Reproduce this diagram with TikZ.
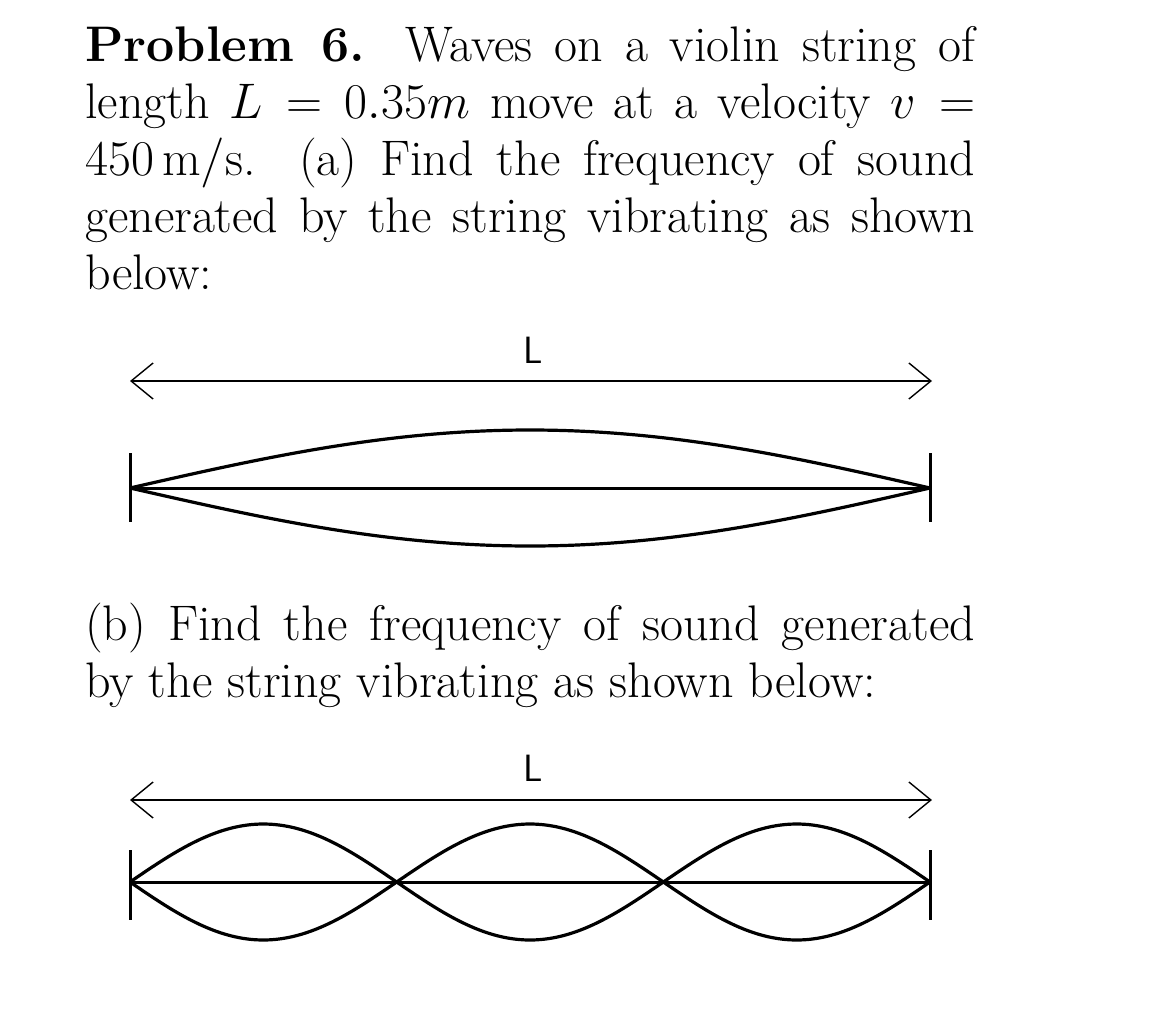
\RequirePackage{fix-cm}
\documentclass[tikz,border=0pt]{standalone}
\usetikzlibrary{arrows.meta}
\DeclareMathSizes{50}{50}{35}{25}
\begin{document}
\begin{tikzpicture}[x=1pt,y=-1pt,
  dim/.style={line width=1.4pt,{Straight Barb[length=22pt,width=36pt,line width=1.4pt]}-{Straight Barb[length=22pt,width=36pt,line width=1.4pt]}},
  str/.style={line width=3pt},
  wave/.style={line width=3.2pt,smooth,samples=80},
  lab/.style={font=\fontsize{38}{40}\selectfont\sffamily},
  para/.style={anchor=north west,inner sep=0pt,text width=890pt,align=justify,font=\fontsize{50}{57}\selectfont}]
\useasboundingbox (0,0) rectangle (1157,1023);
\node[para] (t1) at (85,26)
{\textbf{Problem 6.} Waves on a violin string of\linebreak length $L=0.35m$ move at a velocity $v=$\linebreak $450\,\mathrm{m/s}$. (a) Find the frequency of sound\linebreak generated by the string vibrating as shown\linebreak below:};
\node[para] (t2) at (85,603)
{(b) Find the frequency of sound generated\linebreak by the string vibrating as shown below:};
% diagram a
\node[lab] (La) at (533,350) {L};
\coordinate (a1) at (130,381); \coordinate (a2) at (932,381);
\draw[dim] (a1) -- (a2);
\coordinate (p1) at (130,488); \coordinate (p2) at (930,488);
\draw[str] (p1) -- (p2);
\draw[str] (130,453) -- (130,522);
\draw[str] (930,453) -- (930,522);
\draw[wave,domain=0:800] plot ({130+\x},{488-58*sin(\x/800*180)});
\draw[wave,domain=0:800] plot ({130+\x},{488+58*sin(\x/800*180)});
% diagram b
\node[lab] (Lb) at (533,768) {L};
\coordinate (b1) at (130,800); \coordinate (b2) at (932,800);
\draw[dim] (b1) -- (b2);
\coordinate (q1) at (130,882); \coordinate (q2) at (930,882);
\draw[str] (q1) -- (q2);
\draw[str] (130,850) -- (130,920);
\draw[str] (930,850) -- (930,920);
\draw[wave,domain=0:800] plot ({130+\x},{882-58*sin(\x/800*540)});
\draw[wave,domain=0:800] plot ({130+\x},{882+58*sin(\x/800*540)});
\end{tikzpicture}
\end{document}
